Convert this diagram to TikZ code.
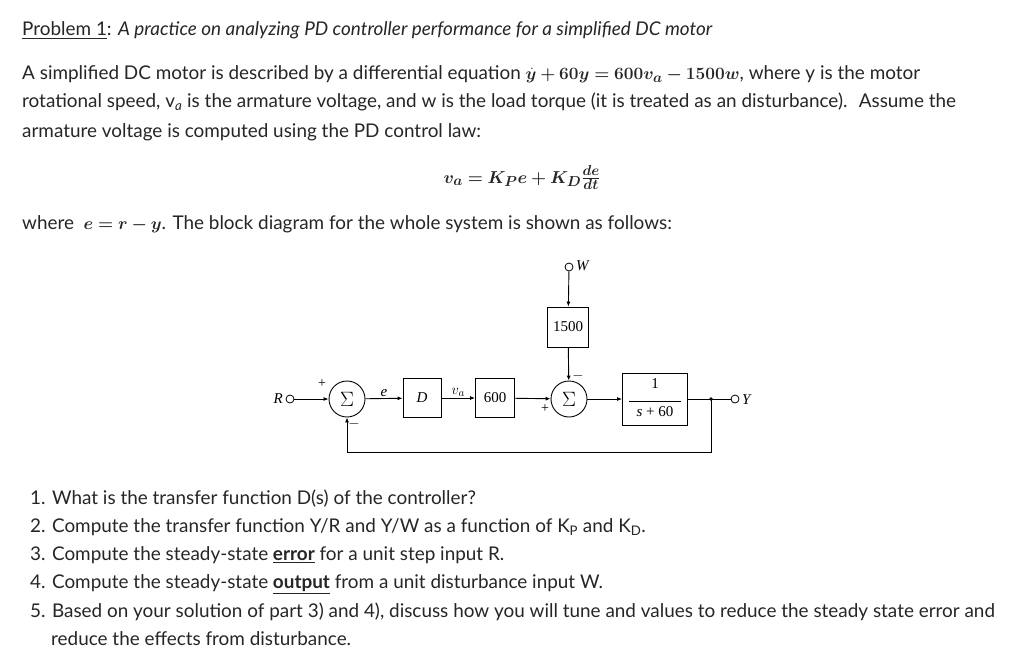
\documentclass[tikz,border=0pt]{standalone}
\usepackage{fontspec}
\usepackage{amsmath,bm}
\setmainfont{Lato}
\newfontfamily\diag{Liberation Serif}
\usetikzlibrary{arrows.meta}
\begin{document}
\begin{tikzpicture}[x=1pt,y=-1pt,
  txt/.style={anchor=base west,inner sep=0pt,font=\fontsize{18.9}{22}\selectfont,text=black!85},
  blk/.style={draw,line width=0.9pt,inner sep=0pt,font=\diag\fontsize{15}{16}\selectfont},
  sumn/.style={draw,circle,line width=0.9pt,minimum size=36pt,inner sep=0pt,font=\diag\fontsize{21}{22}\selectfont},
  term/.style={draw,circle,minimum size=8pt,inner sep=0pt,line width=0.8pt},
  sig/.style={-{Latex[length=5pt,width=4pt]},line width=0.9pt},
  lbl/.style={font=\diag\itshape\fontsize{15}{16}\selectfont,inner sep=1pt},
  sgn/.style={font=\diag\fontsize{14}{15}\selectfont,inner sep=0pt}]
\useasboundingbox (0,0) rectangle (1024,666);
\fill[white] (0,0) rectangle (1024,666);
\node[txt] (t0) at (22,36) {\underline{Problem 1}: \itshape A practice on analyzing PD controller performance for a simplified DC motor};
\node[txt] (t1) at (22,80) {A simplified DC motor is described by a differential equation $\bm{\dot y+60y=600v_a-1500w}$, where y is the motor};
\node[txt] (t2) at (22,108) {rotational speed, v\textsubscript{\itshape a} is the armature voltage, and w is the load torque (it is treated as an disturbance). \ Assume the};
\node[txt] (t3) at (22,137) {armature voltage is computed using the PD control law:};
\node[txt,anchor=base] (eq) at (522,183) {$\bm{v_a=K_Pe+K_D\frac{de}{dt}}$};
\node[txt] (t4) at (22,229) {where \ $\bm{e=r-y}$. The block diagram for the whole system is shown as follows:};
\node[txt] (q1) at (30,504) {1. What is the transfer function D(s) of the controller?};
\node[txt] (q2) at (30,532) {2. Compute the transfer function Y/R and Y/W as a function of K\textsubscript{P} and K\textsubscript{D}.};
\node[txt] (q3) at (30,560) {3. Compute the steady-state \textbf{\underline{error}} for a unit step input R.};
\node[txt] (q4) at (30,588) {4. Compute the steady-state \textbf{\underline{output}} from a unit disturbance input W.};
\node[txt] (q5) at (30,617) {5. Based on your solution of part 3) and 4), discuss how you will tune and values to reduce the steady state error and};
\node[txt] (q6) at (51,645) {reduce the effects from disturbance.};
% diagram
\node[term] (R) at (290,399) {};
\node[lbl,anchor=east] at (284,399) {R};
\node[sumn] (s1) at (347,399) {$\Sigma$};
\node[blk,minimum width=38pt,minimum height=39pt,font=\diag\itshape\fontsize{15}{16}\selectfont] (D) at (422,398) {D};
\node[blk,minimum width=39pt,minimum height=39pt] (g) at (495,398) {600};
\node[sumn] (s2) at (569,399) {$\Sigma$};
\node[blk,minimum width=41pt,minimum height=40pt] (k) at (568,327) {1500};
\node[term] (W) at (569,267) {};
\node[lbl,anchor=west] at (575,266) {W};
\node[blk,minimum width=65pt,minimum height=52pt] (p) at (655,399) {\begin{tabular}{@{}c@{}}1\\[-3pt]\rule{52pt}{0.6pt}\\[-1pt]\textit{s} + 60\end{tabular}};
\coordinate (j) at (711,399);
\fill (j) circle (1.8pt);
\node[term] (Y) at (735,399) {};
\node[lbl,anchor=west] at (741,400) {Y};
\draw[sig] (R) -- (s1);
\draw[sig] (s1) -- node[lbl,above] {e} (D);
\draw[sig] (D) -- node[lbl,above] {$v_a$} (g);
\draw[sig] (g) -- (s2);
\draw[sig] (W) -- (k);
\draw[sig] (k) -- (s2);
\draw[sig] (s2) -- (p);
\draw[line width=0.9pt] (p) -- (Y);
\draw[sig] (j) -- (711,452) -- (347,452) -- (s1);
\node[sgn] at (322,384) {+};
\node[sgn] at (354,424) {$-$};
\node[sgn] at (545,409) {+};
\node[sgn] at (578,376) {$-$};
\end{tikzpicture}
\end{document}
